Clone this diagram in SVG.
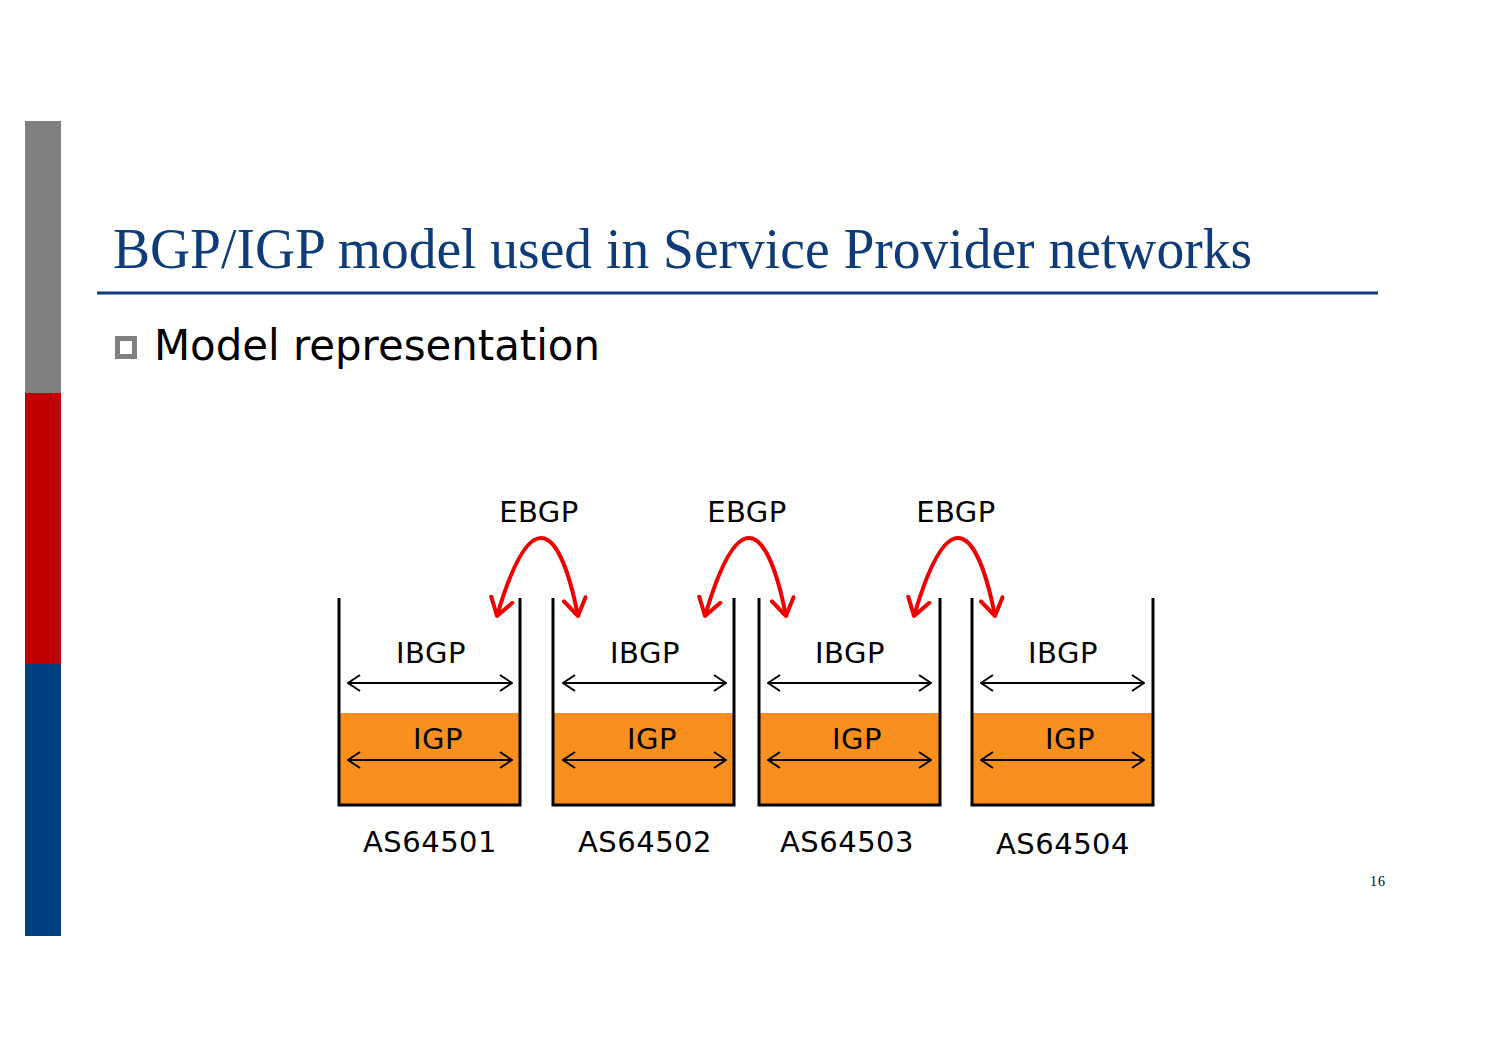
<svg xmlns="http://www.w3.org/2000/svg" width="1500" height="1059" viewBox="0 0 1500 1059">
<style>
.wall{stroke:#000;stroke-width:3;fill:none}
.fill{fill:#F98F1F}
.arr{stroke:#000;stroke-width:2;fill:none;marker-start:url(#blk);marker-end:url(#blk)}
.eb{stroke:#EE0000;stroke-width:4;fill:none;marker-start:url(#red);marker-end:url(#red)}
.lbl{font-family:"DejaVu Sans",Verdana,sans-serif;font-size:29px;letter-spacing:0.5px;fill:#000;text-anchor:middle}
</style>
<defs>
<marker id="blk" viewBox="0 0 14 18" refX="13" refY="9" markerWidth="14" markerHeight="18" markerUnits="userSpaceOnUse" orient="auto-start-reverse">
<path d="M1,1 L13,9 L1,17" fill="none" stroke="#000" stroke-width="2"/>
</marker>
<marker id="red" viewBox="0 0 22 26" refX="19" refY="13" markerWidth="22" markerHeight="26" markerUnits="userSpaceOnUse" orient="auto-start-reverse">
<path d="M2,2 L19,13 L2,24" fill="none" stroke="#EE0000" stroke-width="4" stroke-linecap="round" stroke-linejoin="round"/>
</marker>
</defs>
<rect width="1500" height="1059" fill="#fff"/>
<g id="sidebar">
<rect x="25" y="121" width="36" height="272" fill="#808080"/>
<rect x="25" y="393" width="36" height="271" fill="#C00000"/>
<rect x="25" y="664" width="36" height="272" fill="#003F80"/>
</g>
<g id="title">
<text x="113" y="268" font-family="'Liberation Serif','Times New Roman',serif" font-size="56" fill="#0E3C78" textLength="1139" lengthAdjust="spacingAndGlyphs">BGP/IGP model used in Service Provider networks</text>
<line x1="97" y1="293" x2="1378" y2="293" stroke="#0E3C78" stroke-width="3"/>
</g>
<g id="bullet">
<rect x="117.5" y="338.5" width="17" height="18" fill="none" stroke="#808080" stroke-width="5"/>
<text x="154" y="360" font-family="'DejaVu Sans',Verdana,sans-serif" font-size="43" fill="#000" textLength="446" lengthAdjust="spacingAndGlyphs">Model representation</text>
</g>
<g id="as64501">
<rect class="fill" x="339" y="713" width="181" height="92"/>
<path class="wall" d="M339,598 V805 H520 V598"/>
<text class="lbl" x="431" y="663">IBGP</text>
<text class="lbl" x="438" y="749">IGP</text>
<text class="lbl" x="430" y="852">AS64501</text>
</g>
<g id="as64502">
<rect class="fill" x="553" y="713" width="181" height="92"/>
<path class="wall" d="M553,598 V805 H734 V598"/>
<text class="lbl" x="645" y="663">IBGP</text>
<text class="lbl" x="652" y="749">IGP</text>
<text class="lbl" x="645" y="852">AS64502</text>
</g>
<g id="as64503">
<rect class="fill" x="759" y="713" width="181" height="92"/>
<path class="wall" d="M759,598 V805 H940 V598"/>
<text class="lbl" x="850" y="663">IBGP</text>
<text class="lbl" x="857" y="749">IGP</text>
<text class="lbl" x="847" y="852">AS64503</text>
</g>
<g id="as64504">
<rect class="fill" x="972" y="713" width="181" height="92"/>
<path class="wall" d="M972,598 V805 H1153 V598"/>
<text class="lbl" x="1063" y="663">IBGP</text>
<text class="lbl" x="1070" y="749">IGP</text>
<text class="lbl" x="1063" y="854">AS64504</text>
</g>
<g id="ebgp-labels">
<text class="lbl" x="539" y="522">EBGP</text>
<text class="lbl" x="747" y="522">EBGP</text>
<text class="lbl" x="956" y="522">EBGP</text>
</g>
<g id="connectors">
<line class="arr" x1="348" y1="683" x2="512" y2="683"/>
<line class="arr" x1="348" y1="760" x2="512" y2="760"/>
<line class="arr" x1="563" y1="683" x2="726" y2="683"/>
<line class="arr" x1="563" y1="760" x2="726" y2="760"/>
<line class="arr" x1="768" y1="683" x2="931" y2="683"/>
<line class="arr" x1="768" y1="760" x2="931" y2="760"/>
<line class="arr" x1="981" y1="683" x2="1144" y2="683"/>
<line class="arr" x1="981" y1="760" x2="1144" y2="760"/>
<path class="eb" d="M497,616 C512,565 527,538 541,538 C555,538 568,565 578,616"/>
<path class="eb" d="M705,616 C720,565 735,538 749,538 C763,538 776,565 786,616"/>
<path class="eb" d="M914,616 C929,565 944,538 958,538 C972,538 985,565 995,616"/>
</g>
<text x="1378" y="886" font-family="'Liberation Serif',serif" font-size="14" fill="#000" text-anchor="middle" letter-spacing="1">16</text>
</svg>
